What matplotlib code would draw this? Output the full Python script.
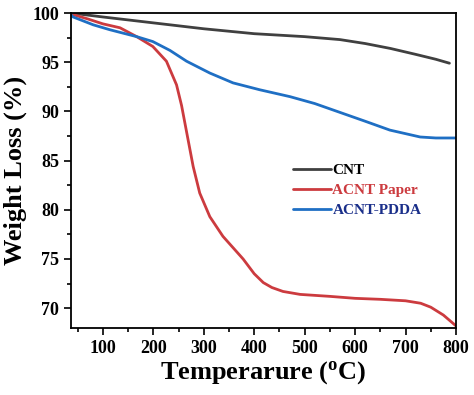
import numpy as np
import matplotlib
matplotlib.use("Agg")
import matplotlib.pyplot as plt
from matplotlib.ticker import MultipleLocator

plt.rcParams['font.family'] = ['Liberation Serif', 'DejaVu Serif']
plt.rcParams['mathtext.fontset'] = 'custom'
plt.rcParams['mathtext.rm'] = 'Liberation Serif:bold'

# CNT
cnt_t = [37, 100, 200, 300, 400, 500, 570, 620, 670, 720, 760, 787]
cnt_w = [100.0, 99.6, 99.0, 98.4, 97.9, 97.6, 97.3, 96.9, 96.4, 95.8, 95.3, 94.9]

# ACNT Paper
acnt_t = [37, 70, 100, 134, 167, 199, 226, 246, 256, 266, 279, 292, 312, 338,
          378, 400, 418, 435, 457, 491, 550, 600, 650, 700, 730, 750, 775, 800]
acnt_w = [99.9, 99.4, 98.9, 98.5, 97.6, 96.6, 95.1, 92.7, 90.6, 87.9, 84.4, 81.7,
          79.3, 77.3, 75.0, 73.5, 72.6, 72.1, 71.7, 71.4, 71.2, 71.0, 70.9, 70.75,
          70.5, 70.1, 69.3, 68.2]

# ACNT-PDDA
pdda_t = [37, 41, 81, 114, 167, 199, 233, 266, 312, 358, 411, 471, 520, 570,
          620, 669, 729, 760, 800]
pdda_w = [99.8, 99.6, 98.8, 98.3, 97.6, 97.1, 96.2, 95.1, 93.9, 92.9, 92.2, 91.5,
          90.8, 89.9, 89.0, 88.1, 87.4, 87.3, 87.3]

fig = plt.figure(figsize=(4.74, 3.95), dpi=100)
ax = fig.add_axes([0.150, 0.170, 0.812, 0.797])

line_kw = dict(lw=2.0, solid_joinstyle='round', solid_capstyle='round')
ax.plot(cnt_t, cnt_w, color='#404040', label='CNT', **line_kw)
ax.plot(acnt_t, acnt_w, color='#cc3b3f', label='ACNT Paper', **line_kw)
ax.plot(pdda_t, pdda_w, color='#1f6fc4', label='ACNT-PDDA', **line_kw)

ax.set_xlim(37, 800)
ax.set_ylim(68, 100)
ax.xaxis.set_major_locator(MultipleLocator(100))
ax.xaxis.set_minor_locator(MultipleLocator(50))
ax.yaxis.set_major_locator(MultipleLocator(5))
ax.yaxis.set_minor_locator(MultipleLocator(2.5))
ax.tick_params(which='both', direction='out', top=False, right=False, width=1.2)
ax.tick_params(which='major', length=5, labelsize=13)
ax.tick_params(which='minor', length=3)
for lab in ax.get_xticklabels() + ax.get_yticklabels():
    lab.set_fontweight('bold')
for sp in ax.spines.values():
    sp.set_linewidth(1.3)

ax.set_xlabel(r'Temperarure ($\mathregular{^o}$C)', fontsize=19, fontweight='bold', labelpad=2)
ax.set_ylabel('Weight Loss (%)', fontsize=19, fontweight='bold', labelpad=4)

leg = ax.legend(loc='center left', bbox_to_anchor=(0.54, 0.437), frameon=False,
                prop={'weight': 'bold', 'size': 11}, handlelength=2.5,
                handletextpad=0.1, labelspacing=0.4)
for txt, c in zip(leg.get_texts(), ['black', '#cc3b3f', '#1a2f8a']):
    txt.set_color(c)

fig.savefig('out.png', dpi=100)
